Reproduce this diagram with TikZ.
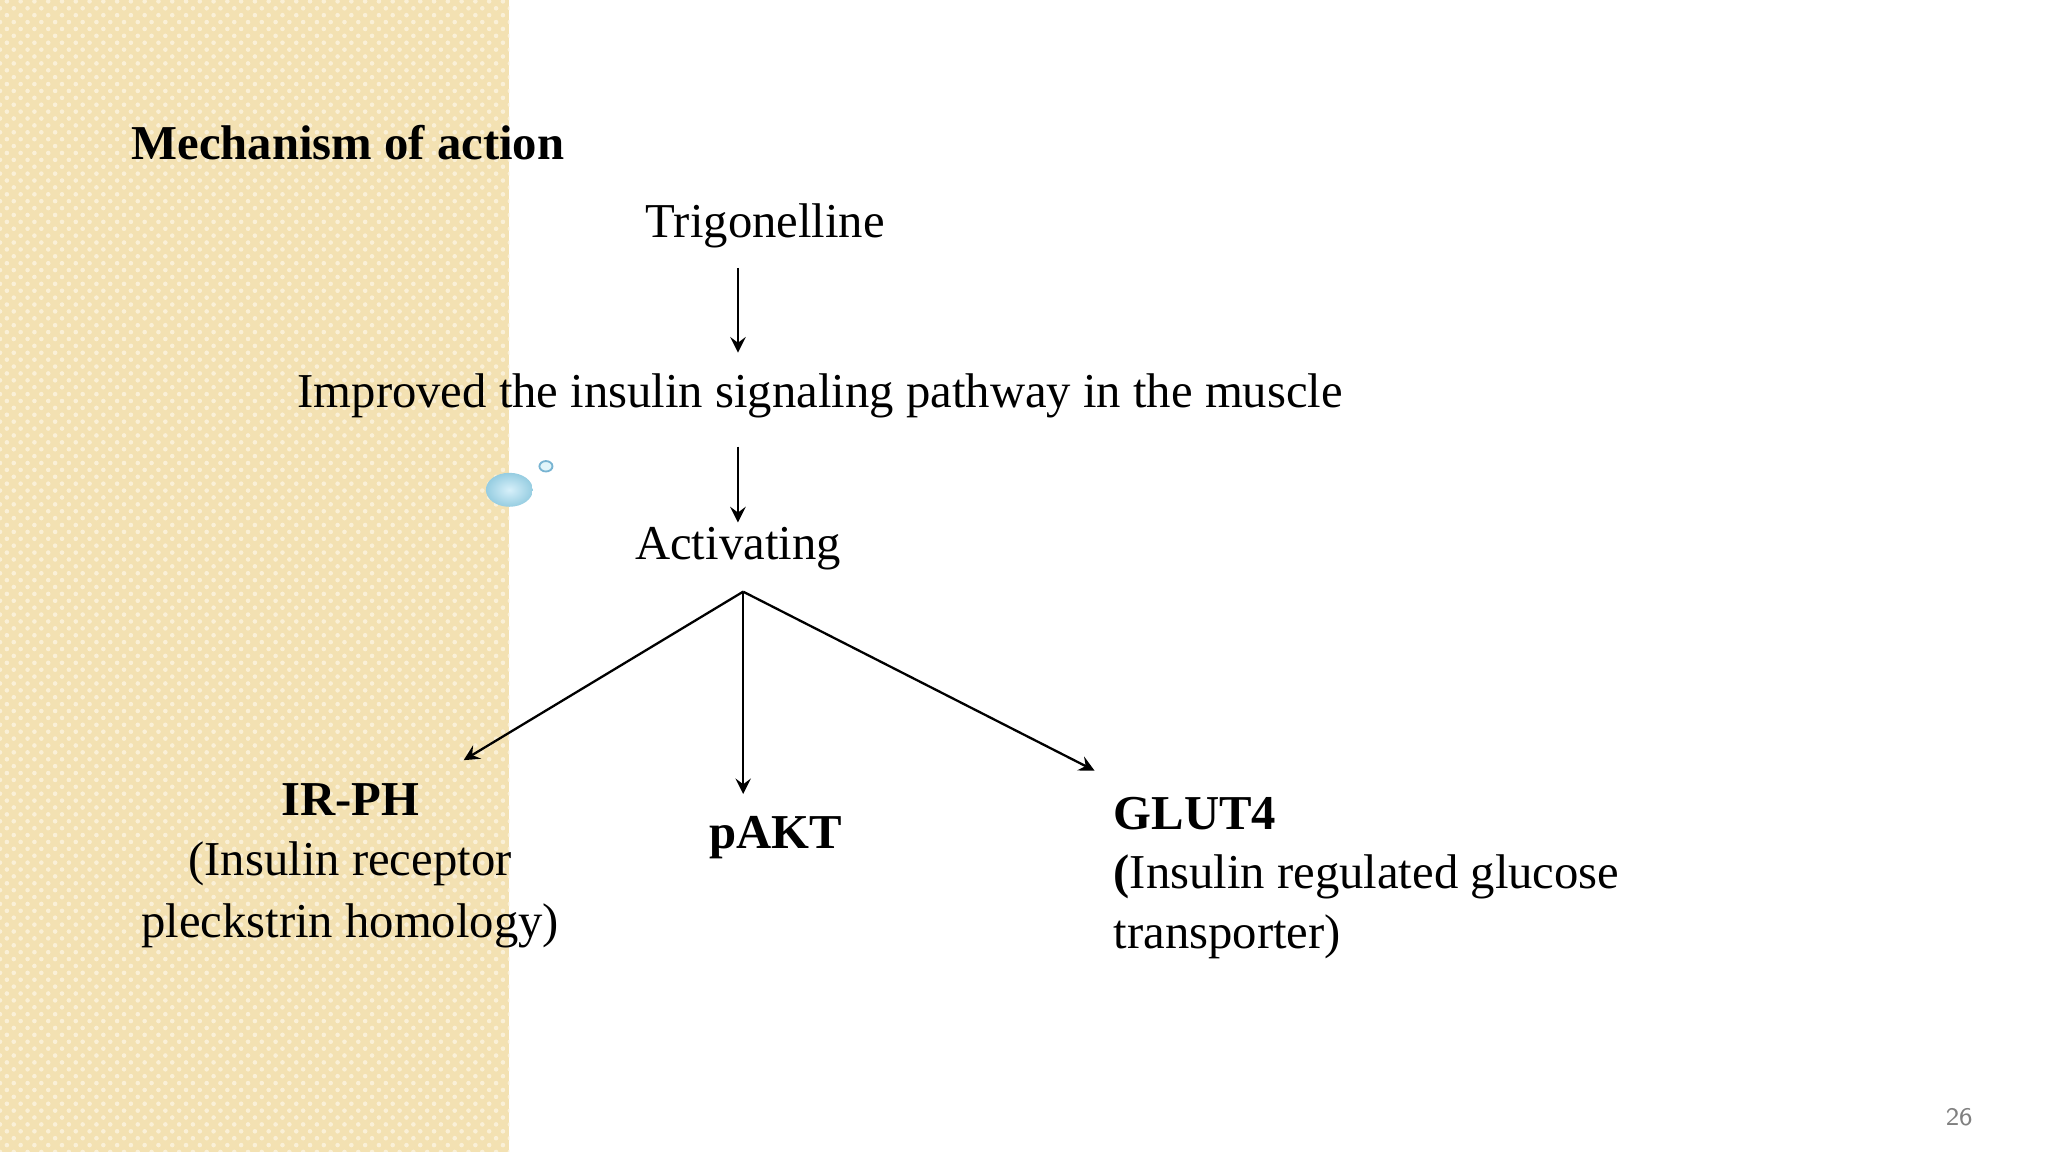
\documentclass[tikz,border=0pt]{standalone}
\usepackage{fontspec}
\setmainfont{Liberation Serif}
\usetikzlibrary{patterns}
\begin{document}
\begin{tikzpicture}[x=0.01cm,y=-0.01cm,
  txt/.style={font=\fontsize{10.6}{12}\selectfont,inner sep=0pt},
  btxt/.style={font=\fontsize{10.6}{12}\selectfont\bfseries,inner sep=0pt},
  arr/.style={->,>=stealth,line width=0.5pt,shorten >=0pt}]
\useasboundingbox (0,0) rectangle (1568,882);
\fill[white] (0,0) rectangle (1568,882);
\fill[color={rgb,255:red,243;green,225;blue,178}] (0,0) rectangle (390,882);
\fill[pattern=crosshatch dots, pattern color={rgb,255:red,250;green,240;blue,215}] (0,0) rectangle (390,882);
\shade[inner color={rgb,255:red,215;green,240;blue,250}, outer color={rgb,255:red,150;green,205;blue,225}] (390,375) ellipse (18 and 13);
\draw[color={rgb,255:red,120;green,180;blue,210},fill={rgb,255:red,225;green,245;blue,250}] (418,357) ellipse (5 and 4);
\node[btxt,anchor=west] (title) at (100,109) {Mechanism of action};
\node[txt] (trig) at (586,173) {Trigonelline};
\node[txt] (imp) at (628,303) {Improved the insulin signaling pathway in the muscle};
\node[txt] (act) at (565,420) {Activating};
\coordinate (split) at (569,453);
\coordinate (t1) at (565,205);
\coordinate (t2) at (565,342);
\node[btxt] (irph) at (268,612) {IR-PH};
\node[txt] (ir2) at (268,661) {(Insulin receptor};
\node[txt] (ir3) at (268,709) {pleckstrin homology)};
\node[btxt] (pakt) at (594,641) {pAKT};
\node[btxt,anchor=west] (glut) at (852,623) {GLUT4};
\node[txt,anchor=west] (g2) at (852,671) {\textbf{(}Insulin regulated glucose};
\node[txt,anchor=west] (g3) at (852,717) {transporter)};
\node[font=\sffamily\fontsize{5.5}{6}\selectfont,text=gray,inner sep=0pt] (pg) at (1500,855) {26};
\draw[arr] (t1) -- (565,270);
\draw[arr] (t2) -- (565,400);
\draw[line width=0.5pt] (split) -- (split);
\draw[arr] (split) -- (355,582);
\draw[arr] (split) -- (569,608);
\draw[arr] (split) -- (838,590);
\end{tikzpicture}
\end{document}
